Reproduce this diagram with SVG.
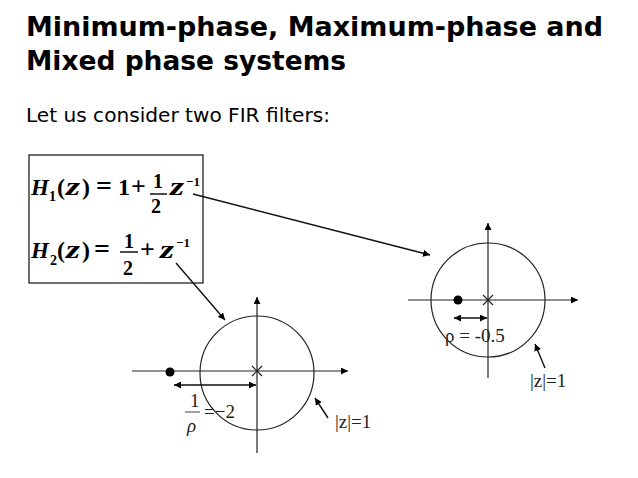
<svg xmlns="http://www.w3.org/2000/svg" width="638" height="478" viewBox="0 0 638 478">
<defs>
<marker id="ah" viewBox="0 0 10 10" refX="10" refY="5" markerWidth="7" markerHeight="7" markerUnits="userSpaceOnUse" orient="auto-start-reverse">
<path d="M0,0 L10,5 L0,10 Z" fill="#000"/>
</marker>
<style>
.title{font-family:"DejaVu Sans",Verdana,sans-serif;font-weight:bold;font-size:26px;fill:#000}
.sub{font-family:"DejaVu Sans",Verdana,sans-serif;font-size:20px;fill:#000}
.eq{font-family:"Liberation Serif","Times New Roman",serif;font-weight:bold;fill:#000}
.it{font-style:italic}
.lbl{font-family:"Liberation Serif","Times New Roman",serif;font-size:19px;fill:#222}
.ln{stroke:#222;stroke-width:1.2;fill:none}
.ar{stroke:#111;stroke-width:1.4;fill:none;marker-end:url(#ah)}
.dar{stroke:#111;stroke-width:1.4;fill:none;marker-end:url(#ah);marker-start:url(#ah)}
</style>
</defs>
<rect width="638" height="478" fill="#fff"/>

<g id="title">
<text class="title" x="26" y="36" textLength="577" lengthAdjust="spacingAndGlyphs">Minimum-phase, Maximum-phase and</text>
<text class="title" x="26" y="70" textLength="320" lengthAdjust="spacingAndGlyphs">Mixed phase systems</text>
<text class="sub" x="26" y="122" textLength="304" lengthAdjust="spacingAndGlyphs">Let us consider two FIR filters:</text>
</g>

<g id="equations">
<rect x="29" y="155" width="174" height="128" fill="none" stroke="#222" stroke-width="1.3"/>
<!-- H1 -->
<text class="eq it" x="31" y="195" font-size="23">H</text>
<text class="eq" x="49" y="201" font-size="14">1</text>
<text class="eq" x="57" y="195" font-size="24">(</text>
<text class="eq it" x="66" y="195" font-size="26" textLength="14" lengthAdjust="spacingAndGlyphs">z</text>
<text class="eq" x="82" y="195" font-size="24">)</text>
<text class="eq" x="96" y="195" font-size="28">=</text>
<text class="eq" x="118" y="195" font-size="24">1</text>
<text class="eq" x="131" y="195" font-size="26">+</text>
<text class="eq" x="153" y="188" font-size="20">1</text>
<line x1="150" y1="194" x2="167" y2="194" stroke="#000" stroke-width="1.4"/>
<text class="eq" x="151" y="213" font-size="20">2</text>
<text class="eq it" x="170" y="195" font-size="26" textLength="14" lengthAdjust="spacingAndGlyphs">z</text>
<text class="eq" x="186" y="186" font-size="13">−1</text>
<!-- H2 -->
<text class="eq it" x="31" y="258" font-size="23">H</text>
<text class="eq" x="50" y="265" font-size="14">2</text>
<text class="eq" x="57" y="258" font-size="24">(</text>
<text class="eq it" x="66" y="258" font-size="26" textLength="14" lengthAdjust="spacingAndGlyphs">z</text>
<text class="eq" x="82" y="258" font-size="24">)</text>
<text class="eq" x="94" y="258" font-size="28">=</text>
<text class="eq" x="124" y="248" font-size="20">1</text>
<line x1="120" y1="252" x2="138" y2="252" stroke="#000" stroke-width="1.4"/>
<text class="eq" x="123" y="275" font-size="20">2</text>
<text class="eq" x="140" y="258" font-size="26">+</text>
<text class="eq it" x="160" y="258" font-size="26" textLength="14" lengthAdjust="spacingAndGlyphs">z</text>
<text class="eq" x="176" y="247" font-size="13">−1</text>
</g>

<g id="plane-max">
<line class="ln" x1="132" y1="371" x2="348" y2="371" marker-end="url(#ah)"/>
<line class="ln" x1="257" y1="453" x2="257" y2="297" marker-end="url(#ah)"/>
<circle class="ln" cx="257" cy="373" r="57"/>
<path d="M252,366 L262,376 M262,366 L252,376" stroke="#222" stroke-width="1.2"/>
<circle cx="170" cy="372" r="4.5" fill="#000"/>
<line class="dar" x1="174" y1="385" x2="256" y2="385"/>
<text class="lbl" x="190" y="407" font-size="20">1</text>
<line x1="185" y1="412" x2="200" y2="412" stroke="#444" stroke-width="1"/>
<text class="lbl it" x="187" y="432" font-size="20">ρ</text>
<text class="lbl" x="204" y="418" font-size="20">=−2</text>
<text class="lbl" x="335" y="428">|z|=1</text>
</g>

<g id="plane-min">
<line class="ln" x1="408" y1="300" x2="578" y2="300" marker-end="url(#ah)"/>
<line class="ln" x1="488" y1="378" x2="488" y2="223" marker-end="url(#ah)"/>
<circle class="ln" cx="488" cy="300" r="57"/>
<path d="M483,295 L493,305 M493,295 L483,305" stroke="#222" stroke-width="1.2"/>
<circle cx="458" cy="300" r="4.5" fill="#000"/>
<line class="dar" x1="454" y1="318" x2="487" y2="318"/>
<text class="lbl" x="445" y="342">ρ = -0.5</text>
<text class="lbl" x="530" y="387">|z|=1</text>
</g>

<g id="connectors">
<line class="ar" x1="193" y1="194" x2="430" y2="255"/>
<line class="ar" x1="176" y1="263" x2="225" y2="320"/>
<line class="ar" x1="545" y1="368" x2="535" y2="344"/>
<line class="ar" x1="328" y1="418" x2="315" y2="398"/>
</g>
</svg>
